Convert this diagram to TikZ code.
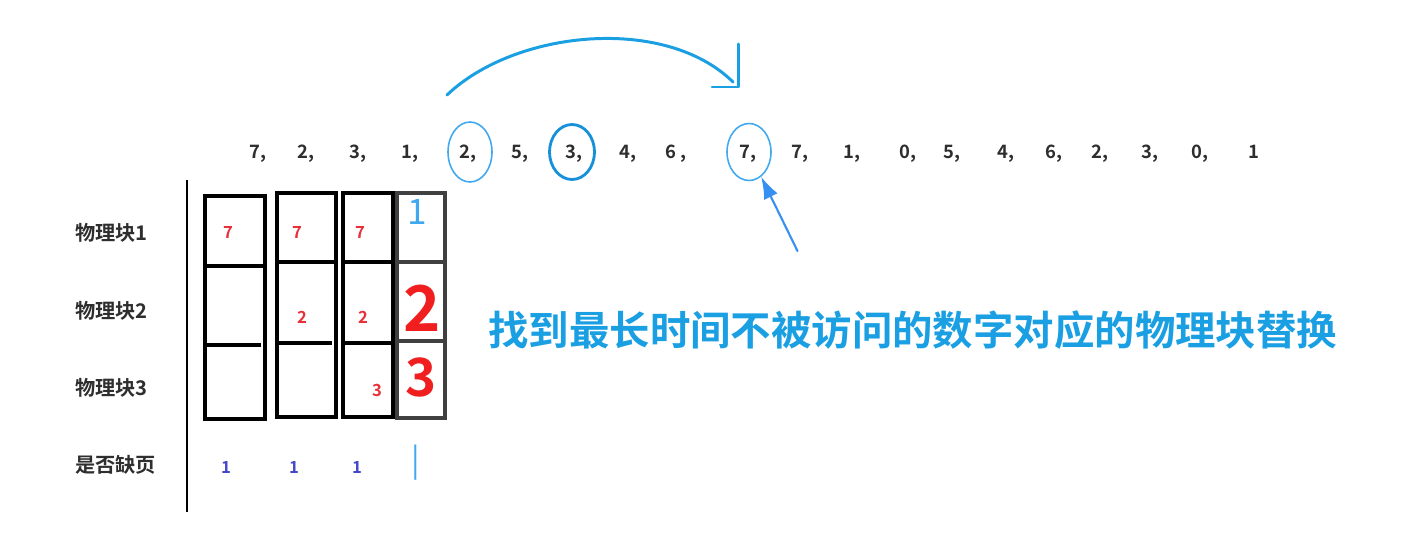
\documentclass[tikz,border=0pt]{standalone}
\usepackage{fontspec}
\setmainfont{Noto Sans CJK SC}[BoldFont=Noto Sans CJK SC Bold]
\usetikzlibrary{arrows.meta, shapes.geometric}

\definecolor{inkgray}{HTML}{2E2E2E}
\definecolor{inkred}{HTML}{E8303A}
\definecolor{penred}{HTML}{F01E1E}
\definecolor{inkblue}{HTML}{4347C9}
\definecolor{skyblue}{HTML}{3FA9F0}
\definecolor{penblue}{HTML}{1A9FE3}
\definecolor{deepblue}{HTML}{1690D8}

\tikzset{
	seq/.style = {font = \fontsize{10.5}{12}\selectfont\bfseries, text = inkgray, inner sep = 0pt, anchor = base},
	rowlabel/.style = {font = \fontsize{11.5}{13}\selectfont\bfseries, text = inkgray, anchor = west, inner sep = 0pt},
	ring/.style = {ellipse, draw = skyblue, line width = 0.9pt, inner sep = 0pt},
	frame/.style = {draw = black, line width = 2pt},
	small/.style = {font = \fontsize{9.5}{11}\selectfont\bfseries, inner sep = 0pt},
	hand/.style = {font = \fontsize{30}{32}\selectfont\bfseries, text = penred, inner sep = 0pt}
}

\begin{document}

\begin{tikzpicture}[x = 0.2mm, y = -0.2mm, > = latex]

	\useasboundingbox (0, 0) rectangle (1416, 551);

	% Reference string

	\foreach \x/\t [count = \i] in {258/{7,}, 306/{2,}, 358/{3,}, 410/{1,}, 468/{2,}, 520/{5,}, 574/{3,}, 628/{4,}, 676/{6 ,}, 748/{7,}, 800/{7,}, 852/{1,}, 908/{0,}, 952/{5,}, 1006/{4,}, 1054/{6,}, 1100/{2,}, 1150/{3,}, 1200/{0,}, 1254/{1}}
		\node [seq] (s\i) at (\x, 159) {\t};

	% Marked references

	\node [ring, minimum width = 8.8mm, minimum height = 12mm] (r5) at (470, 152) {};
	\node [ring, draw = deepblue, line width = 1.6pt, minimum width = 9mm, minimum height = 11mm] (r7) at (572, 152) {};
	\node [ring, minimum width = 8.8mm, minimum height = 11.4mm] (r10) at (749, 152) {};

	% Jump over the string

	\begin{scope}[penblue, line width = 1.7pt, line cap = round, line join = round]

		\coordinate (jumpstart) at (447, 95);
		\coordinate (jumpend) at (733, 82);
		\coordinate (headtop) at (738, 44);
		\coordinate (headfoot) at (712, 87);

		\draw (jumpstart) .. controls (515, 30) and (665, 15) .. (jumpend);
		\draw (headtop) -- (738, 87) -- (headfoot);

	\end{scope}

	% Pointer to the replaced page

	\coordinate (tail) at (798, 252);
	\draw [{Round Cap}-{Latex[length = 4.4mm, width = 3mm]}, color = skyblue!85!blue, line width = 1.2pt] (tail) -- (r10);

	% Row labels

	\node [rowlabel] (b1) at (75, 233) {物理块1};
	\node [rowlabel] (b2) at (75, 311) {物理块2};
	\node [rowlabel] (b3) at (75, 388) {物理块3};
	\node [rowlabel] (miss) at (75, 465) {是否缺页};

	\draw [line width = 1.5pt] (187, 180) -- (187, 512);

	% Frames

	\begin{scope}[frame]

		\draw (205, 196) rectangle (265, 419);
		\draw (205, 266) -- (265, 266);
		\draw (205, 345) -- (261, 345);

		\draw (277, 193) rectangle (336, 417);
		\draw (277, 262) -- (336, 262);
		\draw (277, 343) -- (332, 343);

		\draw (343, 193) rectangle (393, 417);
		\draw (343, 262) -- (393, 262);
		\draw (343, 343) -- (393, 343);

		\draw [draw = black!75] (397, 193) rectangle (445, 418);
		\draw [draw = black!75] (397, 262) -- (445, 262);
		\draw [draw = black!75] (397, 341) -- (445, 341);

	\end{scope}

	% Frame contents

	\begin{scope}[small, text = inkred]

		\node (f11) at (228, 232) {7};
		\node (f21) at (297, 232) {7};
		\node (f31) at (360, 232) {7};
		\node (f22) at (302, 317) {2};
		\node (f32) at (363, 317) {2};
		\node (f33) at (377, 390) {3};

	\end{scope}

	\node [font = \fontsize{20}{22}\selectfont, text = skyblue, inner sep = 0pt] (f41) at (417, 212) {1};
	\node [hand, font = \fontsize{36}{38}\selectfont\bfseries] (f42) at (422, 308) {2};
	\node [hand] (f43) at (421, 377) {3};

	% Page faults

	\begin{scope}[small, text = inkblue]

		\node (m1) at (226, 467) {1};
		\node (m2) at (294, 467) {1};
		\node (m3) at (357, 467) {1};

	\end{scope}

	\node [font = \fontsize{18}{20}\selectfont, text = skyblue, inner sep = 0pt] (m4) at (416, 463) {|};

	% Note

	\node [font = \fontsize{23}{26}\selectfont\bfseries, text = penblue, anchor = west, inner sep = 0pt] (note) at (488, 330) {找到最长时间不被访问的数字对应的物理块替换};

\end{tikzpicture}

\end{document}
